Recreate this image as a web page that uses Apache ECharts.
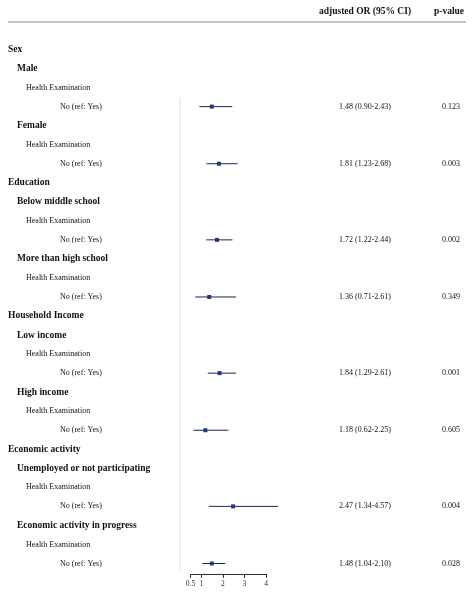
<!DOCTYPE html><html><head><meta charset="utf-8"><script src="https://cdn.jsdelivr.net/npm/echarts@6/dist/echarts.min.js"></script>
<style>html,body{margin:0;background:#fff}#c{width:474px;height:594px}</style></head><body><div id="c"></div><script>
const labels=["Sex","Male","Health Examination","No (ref: Yes)","Female","Health Examination","No (ref: Yes)","Education","Below middle school","Health Examination","No (ref: Yes)","More than high school","Health Examination","No (ref: Yes)","Household Income","Low income","Health Examination","No (ref: Yes)","High income","Health Examination","No (ref: Yes)","Economic activity","Unemployed or not participating","Health Examination","No (ref: Yes)","Economic activity in progress","Health Examination","No (ref: Yes)"];
const levels=[0,1,2,3,1,2,3,0,1,2,3,1,2,3,0,1,2,3,1,2,3,0,1,2,3,1,2,3];
const orRows=[3,6,10,13,17,20,24,27];
const orVal=[1.48,1.81,1.72,1.36,1.84,1.18,2.47,1.48];
const ciLow=[0.90,1.23,1.22,0.71,1.29,0.62,1.34,1.04];
const ciHigh=[2.43,2.68,2.44,2.61,2.61,2.25,4.57,2.10];
const orText=["1.48 (0.90-2.43)","1.81 (1.23-2.68)","1.72 (1.22-2.44)","1.36 (0.71-2.61)","1.84 (1.29-2.61)","1.18 (0.62-2.25)","2.47 (1.34-4.57)","1.48 (1.04-2.10)"];
const pText=["0.123","0.003","0.002","0.349","0.001","0.605","0.004","0.028"];
const tickVals=[0.5,1,2,3,4];
const refLine=[0,2.5,27.4];
const F="Liberation Serif, DejaVu Serif, serif";
const lx=[8,17,26,60];
const c=echarts.init(document.getElementById('c'));
c.setOption({animation:false,
grid:[{left:180,width:86,top:49.5,height:514},{left:190.5,width:75.5,top:573,height:1}],
xAxis:[{gridIndex:0,type:'value',min:0,max:4,show:false},
{gridIndex:1,type:'value',min:0.5,max:4,splitLine:{show:false},axisLine:{lineStyle:{color:'#333',width:1}},
axisTick:{customValues:tickVals,length:4,inside:false,lineStyle:{color:'#333'}},
axisLabel:{customValues:tickVals,fontFamily:F,fontSize:7.5,color:'#333',margin:6,formatter:v=>String(v)}}],
yAxis:[{gridIndex:0,type:'value',min:0,max:27,inverse:true,show:false},{gridIndex:1,type:'value',show:false}],
graphic:[{type:'text',x:365,y:12,style:{text:'adjusted OR (95% CI)',font:'bold 9.5px '+F,fill:'#111',align:'center',verticalAlign:'middle'}},
{type:'text',x:449,y:12,style:{text:'p-value',font:'bold 9.5px '+F,fill:'#111',align:'center',verticalAlign:'middle'}},
{type:'line',shape:{x1:8,y1:22,x2:466,y2:22},style:{stroke:'#888',lineWidth:1}}],
series:[
{type:'custom',xAxisIndex:0,yAxisIndex:0,data:[[refLine[0],refLine[1],refLine[2]]],renderItem:(p,api)=>{const a=api.coord([api.value(0),api.value(1)]),b=api.coord([api.value(0),api.value(2)]);return{type:'line',shape:{x1:a[0],y1:a[1],x2:b[0],y2:b[1]},style:{stroke:'#ddd',lineWidth:1}}}},
{type:'custom',xAxisIndex:0,yAxisIndex:0,data:labels.map((t,i)=>[0,i,levels[i]]),renderItem:(p,api)=>{const i=p.dataIndex,y=api.coord([0,i])[1],lv=levels[i];return{type:'text',x:lx[lv],y:y,style:{text:labels[i],font:(lv<2?'bold 9.5px ':'8px ')+F,fill:'#111',verticalAlign:'middle'}}}},
{type:'custom',xAxisIndex:0,yAxisIndex:0,data:orRows.map((r,i)=>[orVal[i],r,ciLow[i],ciHigh[i]]),renderItem:(p,api)=>{const i=p.dataIndex,c0=api.coord([api.value(0),api.value(1)]),l=api.coord([api.value(2),api.value(1)]),h=api.coord([api.value(3),api.value(1)]);return{type:'group',children:[
{type:'line',shape:{x1:l[0],y1:c0[1],x2:h[0],y2:c0[1]},style:{stroke:'#1a2550',lineWidth:1}},
{type:'rect',shape:{x:c0[0]-2,y:c0[1]-2,width:4,height:4},style:{fill:'#1f3a7a'}},
{type:'text',x:365,y:c0[1],style:{text:orText[i],font:'8px '+F,fill:'#111',align:'center',verticalAlign:'middle'}},
{type:'text',x:460,y:c0[1],style:{text:pText[i],font:'8px '+F,fill:'#111',align:'right',verticalAlign:'middle'}}]}}}
]});
</script></body></html>
